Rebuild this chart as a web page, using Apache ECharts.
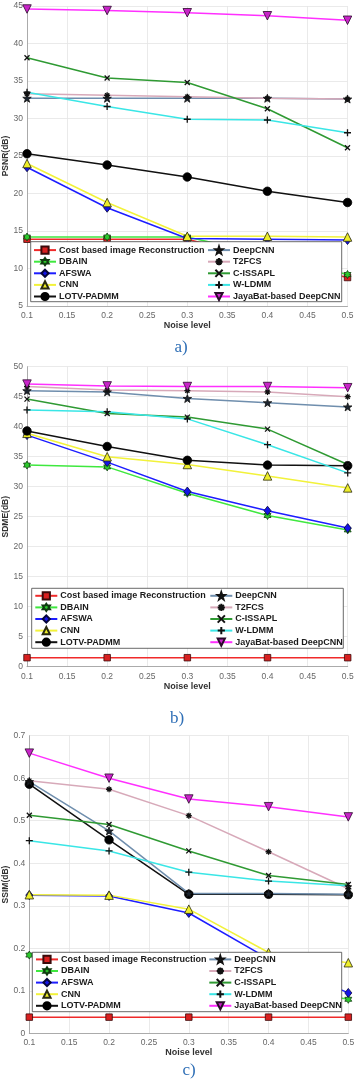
<!DOCTYPE html>
<html>
<head>
<meta charset="utf-8">
<script src="https://cdn.jsdelivr.net/npm/echarts@6/dist/echarts.min.js"></script>
<style>html,body{margin:0;padding:0;background:#fff;}#c{width:357px;height:1082px;}</style>
</head>
<body>
<div id="c"></div>
<script>
// ---------- DATA ----------
const noiseLevels = [0.1, 0.2, 0.3, 0.4, 0.5];
const methodNames = ['Cost based image Reconstruction', 'DBAIN', 'AFSWA', 'CNN', 'LOTV-PADMM',
  'DeepCNN', 'T2FCS', 'C-ISSAPL', 'W-LDMM', 'JayaBat-based DeepCNN'];

// a) PSNR(dB)
const psnrCost    = [13.9, 13.9, 13.9, 11.2, 8.8];
const psnrDBAIN   = [14.2, 14.2, 14.2, 11.8, 9.2];
const psnrAFSWA   = [23.5, 18.1, 14.0, 13.9, 13.8];
const psnrCNN     = [24.0, 18.8, 14.3, 14.3, 14.2];
const psnrLOTV    = [25.3, 23.8, 22.2, 20.3, 18.8];
const psnrDeepCNN = [32.7, 32.7, 32.7, 32.7, 32.6];
const psnrT2FCS   = [33.3, 33.1, 32.9, 32.7, 32.6];
const psnrCISSAPL = [38.1, 35.4, 34.8, 31.3, 26.1];
const psnrWLDMM   = [33.5, 31.6, 29.9, 29.8, 28.1];
const psnrJayaBat = [44.6, 44.4, 44.1, 43.7, 43.1];

// b) SDME(dB)
const sdmeCost    = [1.5, 1.5, 1.5, 1.5, 1.5];
const sdmeDBAIN   = [33.6, 33.3, 28.9, 25.2, 22.8];
const sdmeAFSWA   = [38.6, 34.1, 29.2, 26.0, 23.1];
const sdmeCNN     = [38.9, 35.0, 33.7, 31.8, 29.8];
const sdmeLOTV    = [39.3, 36.7, 34.4, 33.6, 33.5];
const sdmeDeepCNN = [46.0, 45.8, 44.7, 44.0, 43.3];
const sdmeT2FCS   = [46.7, 46.1, 46.0, 45.8, 45.0];
const sdmeCISSAPL = [44.6, 42.2, 41.6, 39.6, 33.7];
const sdmeWLDMM   = [42.8, 42.5, 41.3, 37.0, 32.3];
const sdmeJayaBat = [47.1, 46.8, 46.7, 46.7, 46.5];

// c) SSIM(dB)
const ssimCost    = [0.038, 0.038, 0.038, 0.038, 0.038];
const ssimDBAIN   = [0.184, 0.17, 0.14, 0.11, 0.08];
const ssimAFSWA   = [0.325, 0.323, 0.283, 0.175, 0.095];
const ssimCNN     = [0.326, 0.325, 0.292, 0.190, 0.166];
const ssimLOTV    = [0.586, 0.455, 0.327, 0.327, 0.326];
const ssimDeepCNN = [0.592, 0.476, 0.329, 0.329, 0.327];
const ssimT2FCS   = [0.594, 0.574, 0.512, 0.427, 0.340];
const ssimCISSAPL = [0.513, 0.491, 0.429, 0.371, 0.350];
const ssimWLDMM   = [0.453, 0.429, 0.379, 0.358, 0.347];
const ssimJayaBat = [0.659, 0.600, 0.551, 0.533, 0.509];

const psnrSeries = [psnrCost, psnrDBAIN, psnrAFSWA, psnrCNN, psnrLOTV, psnrDeepCNN, psnrT2FCS, psnrCISSAPL, psnrWLDMM, psnrJayaBat];
const sdmeSeries = [sdmeCost, sdmeDBAIN, sdmeAFSWA, sdmeCNN, sdmeLOTV, sdmeDeepCNN, sdmeT2FCS, sdmeCISSAPL, sdmeWLDMM, sdmeJayaBat];
const ssimSeries = [ssimCost, ssimDBAIN, ssimAFSWA, ssimCNN, ssimLOTV, ssimDeepCNN, ssimT2FCS, ssimCISSAPL, ssimWLDMM, ssimJayaBat];

const yAxisNames = ['PSNR(dB)', 'SDME(dB)', 'SSIM(dB)'];
const yRanges = [[5, 45, 5], [0, 50, 5], [0, 0.7, 0.1]];
const captions = ['a)', 'b)', 'c)'];

// ---------- STYLE ----------
function starPath(n, inner) {
  let d = '';
  for (let i = 0; i < n * 2; i++) {
    const r = i % 2 === 0 ? 50 : 50 * inner;
    const a = -Math.PI / 2 + i * Math.PI / n;
    d += (i === 0 ? 'M' : 'L') + (50 + r * Math.cos(a)).toFixed(2) + ',' + (50 + r * Math.sin(a)).toFixed(2);
  }
  return 'path://' + d + 'Z';
}
const hexagram = starPath(6, 0.577);
const pentagram = starPath(5, 0.40);
const asterisk = 'path://M50,0L50,100M0,50L100,50M15,15L85,85M85,15L15,85';
const cross = 'path://M0,0L100,100M100,0L0,100';
const plus = 'path://M50,0L50,100M0,50L100,50';

const styles = [
  {line: '#f02a2a', symbol: 'rect', size: 6.5, fill: '#d82020', border: '#3a0a0a', bw: 0.8},
  {line: '#3fe83f', symbol: hexagram, size: 8, fill: '#2cc82c', border: '#0f3a0f', bw: 0.8},
  {line: '#1d1dff', symbol: 'diamond', size: [7, 9], fill: '#1414e6', border: '#05053a', bw: 0.8},
  {line: '#f2f23a', symbol: 'triangle', size: 8.5, fill: '#eeee2a', border: '#2a2a10', bw: 0.8},
  {line: '#111111', symbol: 'circle', size: 8.5, fill: '#000000', border: '#000000', bw: 0.8},
  {line: '#6f8ead', symbol: pentagram, size: 8.5, fill: '#1c2530', border: '#111111', bw: 0.8},
  {line: '#d7a9b9', symbol: asterisk, size: 6, fill: 'none', border: '#111111', bw: 1.3},
  {line: '#2f9a33', symbol: cross, size: 5, fill: 'none', border: '#111111', bw: 1.3},
  {line: '#3ae6e6', symbol: plus, size: 7, fill: 'none', border: '#111111', bw: 1.3},
  {line: '#ff30ff', symbol: 'triangle', size: 8.5, rotate: 180, fill: '#c824c8', border: '#2a0a2a', bw: 0.8}
];

// ---------- LAYOUT ----------
const grids = [
  {left: 27, top: 6, width: 320.5, height: 300, outerBoundsMode: 'none', containLabel: false},
  {left: 27, top: 366.7, width: 320.7, height: 300, outerBoundsMode: 'none', containLabel: false},
  {left: 29.3, top: 735.7, width: 319, height: 297.6, outerBoundsMode: 'none', containLabel: false}
];
const legendBoxes = [
  {x: 30.7, y: 241.7, w: 311, h: 60, col1: 33, col2: 207, top: 245.5},
  {x: 31.7, y: 588.3, w: 311.6, h: 60, col1: 34.3, col2: 209.3, top: 591.2},
  {x: 32.3, y: 952.3, w: 309.4, h: 59.4, col1: 35, col2: 208.3, top: 954.8}
];
const captionPos = [[181, 348], [177, 719], [189, 1071]];
const yNameGaps = [16.5, 16.5, 19];

const font = 'Liberation Sans, Arial, Helvetica, sans-serif';
const xAxes = [], yAxes = [], series = [], legends = [], graphics = [];

[psnrSeries, sdmeSeries, ssimSeries].forEach((set, gi) => {
  xAxes.push({
    gridIndex: gi, type: 'value', min: 0.1, max: 0.5, interval: 0.05,
    name: 'Noise level', nameLocation: 'middle', nameGap: 15, nameMoveOverlap: false,
    nameTextStyle: {fontFamily: font, fontSize: 9, fontWeight: 'bold', color: '#333'},
    axisLine: {show: true, lineStyle: {color: '#9a9a9a', width: 0.8}},
    axisTick: {show: false},
    axisLabel: {fontFamily: font, fontSize: 8.5, color: '#666', margin: 5, hideOverlap: false,
      formatter: v => String(+v.toFixed(2))},
    splitLine: {show: true, lineStyle: {color: '#e4e4e4', width: 0.8}}
  });
  yAxes.push({
    gridIndex: gi, type: 'value', min: yRanges[gi][0], max: yRanges[gi][1], interval: yRanges[gi][2],
    name: yAxisNames[gi], nameLocation: 'middle', nameGap: yNameGaps[gi], nameMoveOverlap: false,
    nameTextStyle: {fontFamily: font, fontSize: 8.5, fontWeight: 'bold', color: '#333'},
    axisLine: {show: true, lineStyle: {color: '#9a9a9a', width: 0.8}},
    axisTick: {show: false},
    axisLabel: {fontFamily: font, fontSize: 8.5, color: '#666', margin: 4,
      formatter: v => String(+v.toFixed(2))},
    splitLine: {show: true, lineStyle: {color: '#e4e4e4', width: 0.8}}
  });
  set.forEach((vals, si) => {
    const st = styles[si];
    series.push({
      type: 'line', name: methodNames[si], xAxisIndex: gi, yAxisIndex: gi,
      data: noiseLevels.map((x, k) => [x, vals[k]]),
      symbol: st.symbol, symbolSize: st.size, symbolRotate: st.rotate || 0, symbolKeepAspect: true,
      showAllSymbol: true,
      lineStyle: {color: st.line, width: 1.5},
      itemStyle: {color: st.fill === 'none' ? 'rgba(0,0,0,0)' : st.fill, borderColor: st.border, borderWidth: st.bw},
      emphasis: {disabled: true}, z: 2
    });
  });
  const lb = legendBoxes[gi];
  const legendCommon = {
    orient: 'vertical', top: lb.top, padding: 0, itemWidth: 22, itemHeight: 9, itemGap: 2.4,
    textStyle: {fontFamily: font, fontSize: 9, fontWeight: 'bold', color: '#1a1a1a', padding: [0, 0, 0, -2]},
    selectedMode: false, z: 6, symbolRotate: 'inherit'
  };
  legends.push(Object.assign({}, legendCommon, {left: lb.col1, data: methodNames.slice(0, 5)}));
  legends.push(Object.assign({}, legendCommon, {left: lb.col2, data: methodNames.slice(5)}));
  graphics.push({type: 'rect', z: 5, shape: {x: lb.x, y: lb.y, width: lb.w, height: lb.h},
    style: {fill: '#ffffff', stroke: '#444444', lineWidth: 0.8}});
  graphics.push({type: 'text', z: 5, x: captionPos[gi][0], y: captionPos[gi][1],
    style: {text: captions[gi], font: '17px "Liberation Serif", "Times New Roman", serif', fill: '#2f6fb6',
      textAlign: 'center', textVerticalAlign: 'middle'}});
});

const chart = echarts.init(document.getElementById('c'), null, {renderer: 'canvas'});
chart.setOption({
  animation: false,
  backgroundColor: '#ffffff',
  grid: grids,
  xAxis: xAxes,
  yAxis: yAxes,
  legend: legends,
  graphic: graphics,
  series: series
});
</script>
</body>
</html>
